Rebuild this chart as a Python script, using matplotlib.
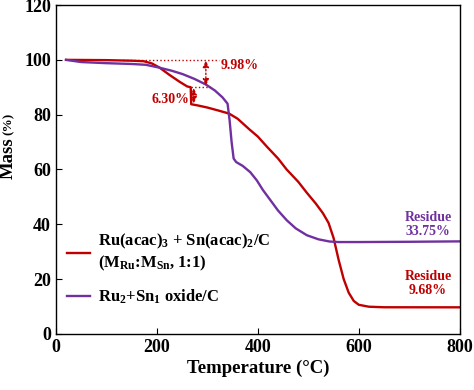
import matplotlib.pyplot as plt

# red: Ru(acac)3 + Sn(acac)2/C
red_t = [20, 100, 150, 174, 190, 205, 225, 245, 260, 267, 268, 280, 300, 320, 343,
         360, 384, 400, 417, 440, 457, 480, 497, 515, 529, 540, 550, 560, 570,
         580, 590, 600, 620, 650, 800]
red_m = [100, 99.9, 99.7, 99.5, 98.7, 97.2, 94.5, 92.0, 90.3, 90.0, 83.8, 83.4, 82.6,
         81.6, 80.4, 78.5, 74.5, 72.0, 68.5, 64.0, 60.0, 55.5, 51.5, 47.5, 44.0,
         40.5, 35.0, 27.0, 20.0, 15.0, 12.0, 10.6, 9.9, 9.7, 9.68]

# purple: Ru2+Sn1 oxide/C
pur_t = [20, 50, 99, 150, 178, 204, 230, 251, 275, 297, 315, 330, 340, 344, 348,
         352, 357, 370, 385, 398, 410, 424, 440, 457, 475, 497, 520, 542, 560,
         600, 700, 800]
pur_m = [100, 99.2, 98.8, 98.5, 98.2, 97.2, 96.0, 94.8, 93.0, 91.0, 88.8, 86.3, 84.0,
         78.0, 70.0, 64.0, 62.7, 61.3, 59.0, 56.0, 52.5, 49.0, 45.0, 41.5, 38.5,
         36.0, 34.5, 33.7, 33.5, 33.5, 33.6, 33.75]

RED = '#C00000'
PUR = '#7030A0'

plt.rcParams['font.family'] = ['Liberation Serif', 'DejaVu Serif']
plt.rcParams['font.weight'] = 'bold'
plt.rcParams['mathtext.fontset'] = 'custom'
plt.rcParams['mathtext.rm'] = 'Liberation Serif:bold'
plt.rcParams['mathtext.it'] = 'Liberation Serif:bold'
plt.rcParams['mathtext.bf'] = 'Liberation Serif:bold'

fig = plt.figure(figsize=(4.74, 3.9), dpi=100)
ax = fig.add_axes([0.118, 0.144, 0.852, 0.843])

ax.plot(red_t, red_m, color=RED, lw=1.7,
        label='Ru(acac)$_3$ + Sn(acac)$_2$/C\n(M$_{\\rm Ru}$:M$_{\\rm Sn}$, 1:1)')
ax.plot(pur_t, pur_m, color=PUR, lw=1.7, label='Ru$_2$+Sn$_1$ oxide/C')

ax.set_xlim(0, 800)
ax.set_ylim(0, 120)
ax.set_xticks([0, 200, 400, 600, 800])
ax.set_yticks([0, 20, 40, 60, 80, 100, 120])
ax.tick_params(direction='in', length=4, labelsize=13)
for lab in ax.get_xticklabels() + ax.get_yticklabels():
    lab.set_fontweight('bold')
for s in ax.spines.values():
    s.set_linewidth(1.0)

ax.set_xlabel('Temperature (°C)', fontsize=13.5, fontweight='bold', labelpad=3)
ax.text(-0.118, 0.535, 'Mass', transform=ax.transAxes, rotation=90, fontsize=13.5,
        fontweight='bold', ha='center', va='center')
ax.text(-0.118, 0.638, '(%)', transform=ax.transAxes, rotation=90, fontsize=9.5,
        fontweight='bold', ha='center', va='center')

# annotations
ax.plot([133, 323], [100, 100], ls=':', color=RED, lw=1)
ax.plot([267, 305], [90, 90], ls=':', color=RED, lw=1)
ax.annotate('', xy=(297, 90.5), xytext=(297, 99.8),
            arrowprops=dict(arrowstyle='<|-|>,head_length=0.4,head_width=0.18',
                            color=RED, ls=':', lw=1, shrinkA=0, shrinkB=0))
ax.annotate('', xy=(273, 84), xytext=(273, 89.8),
            arrowprops=dict(arrowstyle='<|-|>,head_length=0.4,head_width=0.18',
                            color=RED, ls=':', lw=1, shrinkA=0, shrinkB=0))
ax.text(327, 98.0, '9.98%', color=RED, fontsize=10, fontweight='bold',
        ha='left', va='center')
ax.text(265, 85.5, '6.30%', color=RED, fontsize=10, fontweight='bold',
        ha='right', va='center')

ax.text(737, 40, 'Residue\n33.75%', color=PUR, fontsize=10, fontweight='bold',
        ha='center', va='center', linespacing=1.1)
ax.text(737, 18.5, 'Residue\n9.68%', color=RED, fontsize=10, fontweight='bold',
        ha='center', va='center', linespacing=1.1)

leg = ax.legend(loc='upper left', bbox_to_anchor=(-0.01, 0.355), frameon=False,
                fontsize=12, handlelength=1.4, handletextpad=0.45,
                labelspacing=0.85)
for t in leg.get_texts():
    t.set_fontweight('bold')

fig.savefig('out.png', dpi=100)
